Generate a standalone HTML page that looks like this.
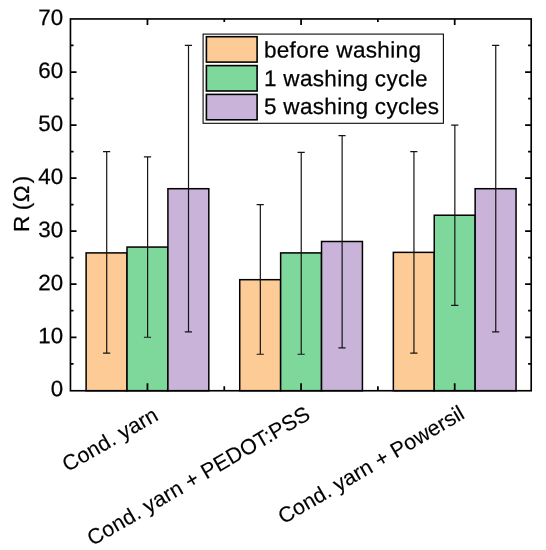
<!DOCTYPE html>
<html lang="en"><head><meta charset="utf-8"><title>Chart</title>
<style>html,body{margin:0;padding:0;background:#fff}body{width:546px;height:550px;overflow:hidden}</style></head>
<body>
<svg width="546" height="550" viewBox="0 0 546 550" style="display:block">
<rect x="0" y="0" width="546" height="550" fill="#fff"/>
<rect x="86.11" y="252.90" width="40.90" height="137.85" fill="#FDCB96" stroke="#000" stroke-width="1.5"/>
<rect x="127.01" y="247.06" width="40.90" height="143.69" fill="#7FD89B" stroke="#000" stroke-width="1.5"/>
<rect x="167.91" y="188.71" width="40.90" height="202.04" fill="#C9B3D9" stroke="#000" stroke-width="1.5"/>
<rect x="239.73" y="279.69" width="40.90" height="111.06" fill="#FDCB96" stroke="#000" stroke-width="1.5"/>
<rect x="280.63" y="252.90" width="40.90" height="137.85" fill="#7FD89B" stroke="#000" stroke-width="1.5"/>
<rect x="321.53" y="241.49" width="40.90" height="149.26" fill="#C9B3D9" stroke="#000" stroke-width="1.5"/>
<rect x="393.35" y="252.37" width="40.90" height="138.38" fill="#FDCB96" stroke="#000" stroke-width="1.5"/>
<rect x="434.25" y="215.23" width="40.90" height="175.52" fill="#7FD89B" stroke="#000" stroke-width="1.5"/>
<rect x="475.15" y="188.71" width="40.90" height="202.04" fill="#C9B3D9" stroke="#000" stroke-width="1.5"/>
<path d="M106.71 353.17V151.57M103.01 353.17h7.2M103.01 151.57h7.2" stroke="#151515" stroke-width="1.2" fill="none"/>
<path d="M147.61 337.25V156.88M143.91 337.25h7.2M143.91 156.88h7.2" stroke="#151515" stroke-width="1.2" fill="none"/>
<path d="M188.51 331.94V45.47M184.81 331.94h7.2M184.81 45.47h7.2" stroke="#151515" stroke-width="1.2" fill="none"/>
<path d="M260.33 354.23V204.62M256.63 354.23h7.2M256.63 204.62h7.2" stroke="#151515" stroke-width="1.2" fill="none"/>
<path d="M301.23 354.23V152.37M297.53 354.23h7.2M297.53 152.37h7.2" stroke="#151515" stroke-width="1.2" fill="none"/>
<path d="M342.13 347.86V135.66M338.43 347.86h7.2M338.43 135.66h7.2" stroke="#151515" stroke-width="1.2" fill="none"/>
<path d="M413.95 353.17V151.57M410.25 353.17h7.2M410.25 151.57h7.2" stroke="#151515" stroke-width="1.2" fill="none"/>
<path d="M454.85 305.42V125.05M451.15 305.42h7.2M451.15 125.05h7.2" stroke="#151515" stroke-width="1.2" fill="none"/>
<path d="M495.75 331.94V45.47M492.05 331.94h7.2M492.05 45.47h7.2" stroke="#151515" stroke-width="1.2" fill="none"/>
<rect x="70.45" y="18.95" width="460.75" height="371.80" fill="none" stroke="#000" stroke-width="1.65"/>
<path d="M70.45 363.78h3.1M531.2 363.78h-3.1M70.45 337.25h6.1M531.2 337.25h-6.1M70.45 310.73h3.1M531.2 310.73h-3.1M70.45 284.20h6.1M531.2 284.20h-6.1M70.45 257.67h3.1M531.2 257.67h-3.1M70.45 231.15h6.1M531.2 231.15h-6.1M70.45 204.62h3.1M531.2 204.62h-3.1M70.45 178.10h6.1M531.2 178.10h-6.1M70.45 151.57h3.1M531.2 151.57h-3.1M70.45 125.05h6.1M531.2 125.05h-6.1M70.45 98.52h3.1M531.2 98.52h-3.1M70.45 72.00h6.1M531.2 72.00h-6.1M70.45 45.47h3.1M531.2 45.47h-3.1M147.46 390.75v-7.6M147.46 18.95v6.1M224.27 390.75v-4.5M224.27 18.95v3.1M301.08 390.75v-7.6M301.08 18.95v6.1M377.89 390.75v-4.5M377.89 18.95v3.1M454.70 390.75v-7.6M454.70 18.95v6.1" stroke="#000" stroke-width="1.75" fill="none"/>
<g font-family="'Liberation Sans', Arial, sans-serif" font-size="21.5" fill="#000" stroke="#000" stroke-width="0.25">
<text x="63.1" y="396.30" transform="rotate(0.04 63 396.30)" text-anchor="end" font-size="22.3">0</text>
<text x="63.1" y="343.25" transform="rotate(0.04 63 343.25)" text-anchor="end" font-size="22.3">10</text>
<text x="63.1" y="290.20" transform="rotate(0.04 63 290.20)" text-anchor="end" font-size="22.3">20</text>
<text x="63.1" y="237.15" transform="rotate(0.04 63 237.15)" text-anchor="end" font-size="22.3">30</text>
<text x="63.1" y="184.10" transform="rotate(0.04 63 184.10)" text-anchor="end" font-size="22.3">40</text>
<text x="63.1" y="131.05" transform="rotate(0.04 63 131.05)" text-anchor="end" font-size="22.3">50</text>
<text x="63.1" y="78.00" transform="rotate(0.04 63 78.00)" text-anchor="end" font-size="22.3">60</text>
<text x="63.1" y="24.95" transform="rotate(0.04 63 24.95)" text-anchor="end" font-size="22.3">70</text>
<text transform="translate(29.3 203.6) rotate(-90)" text-anchor="middle" letter-spacing="0.6" font-size="22.5">R<tspan dx="-1.9"> (Ω</tspan><tspan dx="1.6">)</tspan></text>
<text transform="translate(159.7 419.1) rotate(-30)" text-anchor="end" letter-spacing="0.12" stroke-width="0.12">Cond. yarn</text>
<text transform="translate(311.8 418.1) rotate(-30.3)" text-anchor="end" letter-spacing="0.17" stroke-width="0.12">Cond. yarn + PEDOT:PSS</text>
<text transform="translate(466.0 417.5) rotate(-30.35)" text-anchor="end" letter-spacing="0.03" stroke-width="0.12">Cond. yarn + Powersil</text>
</g>
<rect x="203.1" y="34.1" width="240.3" height="89.2" fill="#fff" stroke="#0a0a0a" stroke-width="1.1"/>
<g font-family="'Liberation Sans', Arial, sans-serif" font-size="22.5" fill="#000" stroke-width="0.25">
<rect x="206.4" y="36.7" width="50.7" height="25.4" fill="#FDCB96" stroke="#000" stroke-width="1.6"/>
<text x="263.9" y="57.5" transform="rotate(0.04 264 57.5)" letter-spacing="0.34" stroke="#000">before washing</text>
<rect x="206.4" y="65.6" width="50.7" height="25.4" fill="#7FD89B" stroke="#000" stroke-width="1.6"/>
<text x="263.9" y="86.1" transform="rotate(0.04 264 86.1)" letter-spacing="0.34" stroke="#000">1 washing cycle</text>
<rect x="206.4" y="94.4" width="50.7" height="25.4" fill="#C9B3D9" stroke="#000" stroke-width="1.6"/>
<text x="263.9" y="113.9" transform="rotate(0.04 264 113.9)" letter-spacing="0.34" stroke="#000">5 washing cycles</text>
</g>
</svg>
</body></html>
